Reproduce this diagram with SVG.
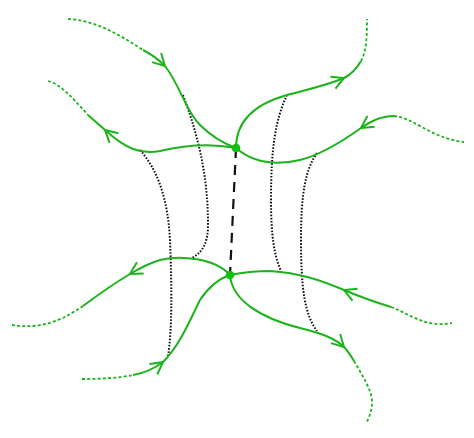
<svg xmlns="http://www.w3.org/2000/svg" width="474" height="438" viewBox="0 0 474 438">
<defs>
<style>
.g{fill:none;stroke:#1cb31c;stroke-width:2}
.gd{fill:none;stroke:#1cb31c;stroke-width:1.8;stroke-dasharray:3 2.2}
.dot{fill:none;stroke:#111;stroke-width:2;stroke-dasharray:1.6 1.6}
.bd{fill:none;stroke:#111;stroke-width:2.2;stroke-dasharray:10 7}
.node{fill:#10c010}
</style>
<marker id="arr" markerWidth="24" markerHeight="24" refX="12" refY="12" orient="auto" markerUnits="userSpaceOnUse" overflow="visible">
<path d="M0,5.5 L12,12 L0,18.5" fill="none" stroke="#1cb31c" stroke-width="2"/>
</marker>
</defs>
<rect width="474" height="438" fill="#fff"/>
<g id="connectors">
<path class="dot" d="M140,150 C158,170 168,200 170,240 C172,290 172,330 168,357"/>
<path class="dot" d="M183,95 C200,140 208,180 208,225 C208,242 203,252 192,258"/>
<path class="dot" d="M287,95 C275,120 271,150 271,200 C271,235 274,255 281,271"/>
<path class="dot" d="M317,153 C305,170 301,195 301,240 C301,290 305,315 317,331"/>
<path class="bd" d="M236,148 L230,275"/>
<!-- A -->
<path class="gd" d="M68,19 C95,20 120,35 143,50"/>
<path class="g" marker-end="url(#arr)" d="M143,50 Q155,56 165,66"/>
<path class="g" d="M165,66 C180,85 185,110 200,125 C212,137 225,144 236,148"/>
<!-- B -->
<path class="gd" d="M48,81 C60,84 70,95 88,115"/>
<path class="g" marker-end="url(#arr)" d="M236,148 C210,143 185,145 160,151 C140,155 125,148 105,130"/>
<path class="g" d="M105,130 L88,115"/>
<!-- C -->
<path class="g" marker-end="url(#arr)" d="M236,148 C236,120 255,104 287,95 C305,90 325,86 344,78"/>
<path class="g" d="M344,78 C352,74 357,68 361,61"/>
<path class="gd" d="M361,61 C366,52 367,40 367,19"/>
<!-- D -->
<path class="gd" d="M394,116 C415,118 430,138 464,142"/>
<path class="g" marker-end="url(#arr)" d="M394,116 C380,116 370,122 361,128"/>
<path class="g" d="M361,128 C340,143 320,155 300,160 C270,167 250,160 236,148"/>
<!-- E -->
<path class="g" marker-end="url(#arr)" d="M230,275 C215,258 180,255 160,260 C150,263 140,268 130,274"/>
<path class="g" d="M130,274 C110,286 95,297 83,306"/>
<path class="gd" d="M83,306 C65,318 45,330 12,325"/>
<!-- F -->
<path class="gd" d="M82,379 C100,379 120,378 133,375"/>
<path class="g" marker-end="url(#arr)" d="M133,375 C145,373 155,368 163,362"/>
<path class="g" d="M163,362 C180,345 190,320 200,300 C208,288 218,279 230,275"/>
<!-- G -->
<path class="gd" d="M391,307 C410,314 425,328 452,323"/>
<path class="g" marker-end="url(#arr)" d="M391,307 C375,302 358,296 344,290"/>
<path class="g" d="M344,290 C320,280 300,273 270,271 C255,271 240,273 230,275"/>
<!-- H -->
<path class="g" marker-end="url(#arr)" d="M230,275 C232,300 260,318 300,328 C320,333 335,338 344,347"/>
<path class="g" d="M344,347 C348,351 351,356 354,361"/>
<path class="gd" d="M354,361 C362,375 372,390 372,402 C372,412 368,420 366,423"/>
</g>
<g id="node-top"><circle class="node" cx="236" cy="148" r="4.3"/></g>
<g id="node-bottom"><circle class="node" cx="230" cy="275" r="4.3"/></g>
</svg>
